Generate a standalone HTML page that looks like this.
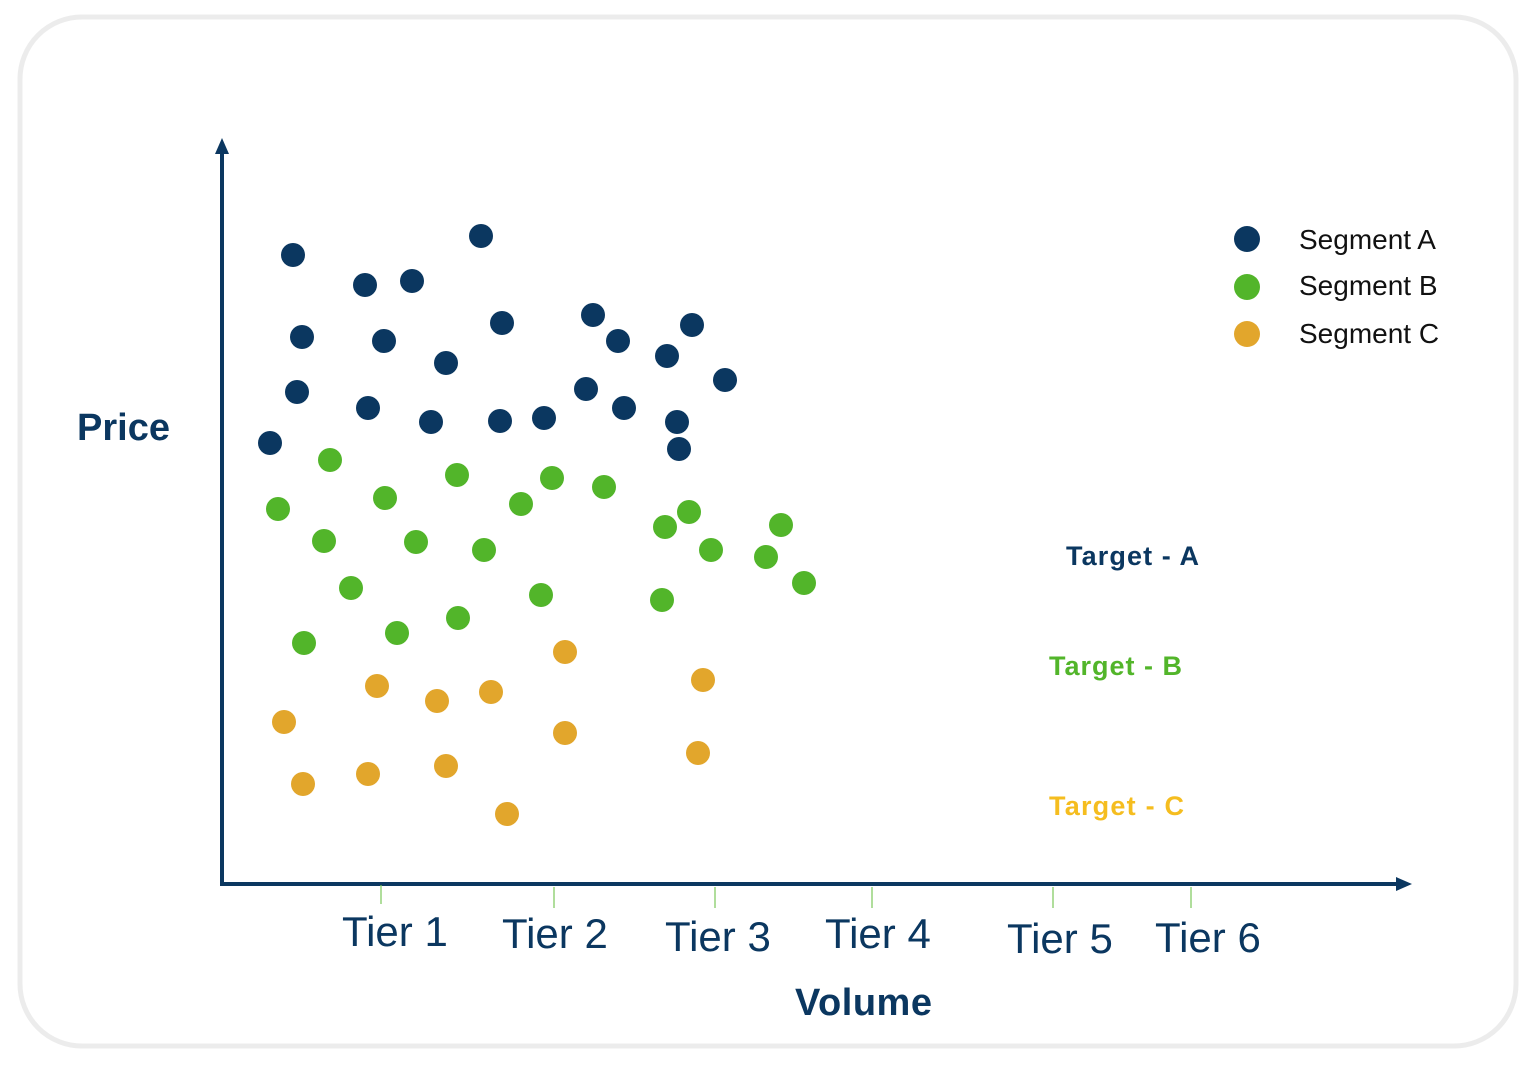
<!DOCTYPE html>
<html><head><style>
body{margin:0;background:#fff;width:1536px;height:1064px;overflow:hidden}
</style></head><body>
<svg width="1536" height="1064" xmlns="http://www.w3.org/2000/svg" font-family="Liberation Sans, sans-serif">
<rect x="20" y="17" width="1496" height="1029" rx="62" fill="#fff" stroke="#ececec" stroke-width="5"/>
<line x1="222" y1="884" x2="222" y2="150" stroke="#0b3760" stroke-width="4"/>
<polygon points="222,138 215,154 229,154" fill="#0b3760"/>
<line x1="220" y1="884" x2="1398" y2="884" stroke="#0b3760" stroke-width="4"/>
<polygon points="1412,884 1396,877 1396,891" fill="#0b3760"/>
<g stroke="#7cc85a" stroke-width="1.2">
<line x1="381" y1="885" x2="381" y2="904"/><line x1="554" y1="887" x2="554" y2="908"/>
<line x1="715" y1="887" x2="715" y2="908"/><line x1="872" y1="887" x2="872" y2="908"/>
<line x1="1053" y1="887" x2="1053" y2="908"/><line x1="1191" y1="887" x2="1191" y2="908"/>
</g>
<g fill="#0b3760" font-size="42">
<text x="342" y="946">Tier 1</text><text x="502" y="948">Tier 2</text>
<text x="665" y="951">Tier 3</text><text x="825" y="948">Tier 4</text>
<text x="1007" y="953">Tier 5</text><text x="1155" y="952">Tier 6</text>
</g>
<text x="795" y="1015" font-size="38" font-weight="bold" fill="#0b3760" textLength="137">Volume</text>
<text x="77" y="440" font-size="38" font-weight="bold" fill="#0b3760" textLength="93">Price</text>
<g fill="#0b3760">
<circle cx="293" cy="255" r="12"/><circle cx="365" cy="285" r="12"/><circle cx="412" cy="281" r="12"/><circle cx="481" cy="236" r="12"/>
<circle cx="302" cy="337" r="12"/><circle cx="384" cy="341" r="12"/><circle cx="446" cy="363" r="12"/><circle cx="502" cy="323" r="12"/>
<circle cx="593" cy="315" r="12"/><circle cx="618" cy="341" r="12"/><circle cx="692" cy="325" r="12"/><circle cx="667" cy="356" r="12"/>
<circle cx="725" cy="380" r="12"/><circle cx="297" cy="392" r="12"/><circle cx="368" cy="408" r="12"/><circle cx="431" cy="422" r="12"/>
<circle cx="500" cy="421" r="12"/><circle cx="544" cy="418" r="12"/><circle cx="586" cy="389" r="12"/><circle cx="624" cy="408" r="12"/>
<circle cx="677" cy="422" r="12"/><circle cx="679" cy="449" r="12"/><circle cx="270" cy="443" r="12"/>
</g>
<g fill="#52b52a">
<circle cx="330" cy="460" r="12"/><circle cx="457" cy="475" r="12"/><circle cx="552" cy="478" r="12"/><circle cx="604" cy="487" r="12"/>
<circle cx="278" cy="509" r="12"/><circle cx="385" cy="498" r="12"/><circle cx="521" cy="504" r="12"/><circle cx="689" cy="512" r="12"/>
<circle cx="665" cy="527" r="12"/><circle cx="781" cy="525" r="12"/><circle cx="324" cy="541" r="12"/><circle cx="416" cy="542" r="12"/>
<circle cx="484" cy="550" r="12"/><circle cx="711" cy="550" r="12"/><circle cx="766" cy="557" r="12"/><circle cx="804" cy="583" r="12"/>
<circle cx="351" cy="588" r="12"/><circle cx="541" cy="595" r="12"/><circle cx="662" cy="600" r="12"/><circle cx="458" cy="618" r="12"/>
<circle cx="397" cy="633" r="12"/><circle cx="304" cy="643" r="12"/>
</g>
<g fill="#e2a62c">
<circle cx="565" cy="652" r="12"/><circle cx="377" cy="686" r="12"/><circle cx="491" cy="692" r="12"/><circle cx="437" cy="701" r="12"/>
<circle cx="703" cy="680" r="12"/><circle cx="284" cy="722" r="12"/><circle cx="565" cy="733" r="12"/><circle cx="698" cy="753" r="12"/>
<circle cx="446" cy="766" r="12"/><circle cx="368" cy="774" r="12"/><circle cx="303" cy="784" r="12"/><circle cx="507" cy="814" r="12"/>
</g>
<circle cx="1247" cy="239" r="13" fill="#0b3760"/><circle cx="1247" cy="287" r="13" fill="#52b52a"/><circle cx="1247" cy="334" r="13" fill="#e2a62c"/>
<g font-size="28" fill="#111">
<text x="1299" y="249">Segment A</text><text x="1299" y="295">Segment B</text><text x="1299" y="343">Segment C</text>
</g>
<g font-size="27" font-weight="bold">
<text x="1066" y="565" fill="#0b3760" textLength="133">Target - A</text>
<text x="1049" y="675" fill="#52b52a" textLength="133">Target - B</text>
<text x="1049" y="815" fill="#f5bd1f" textLength="135">Target - C</text>
</g>
</svg>
</body></html>
